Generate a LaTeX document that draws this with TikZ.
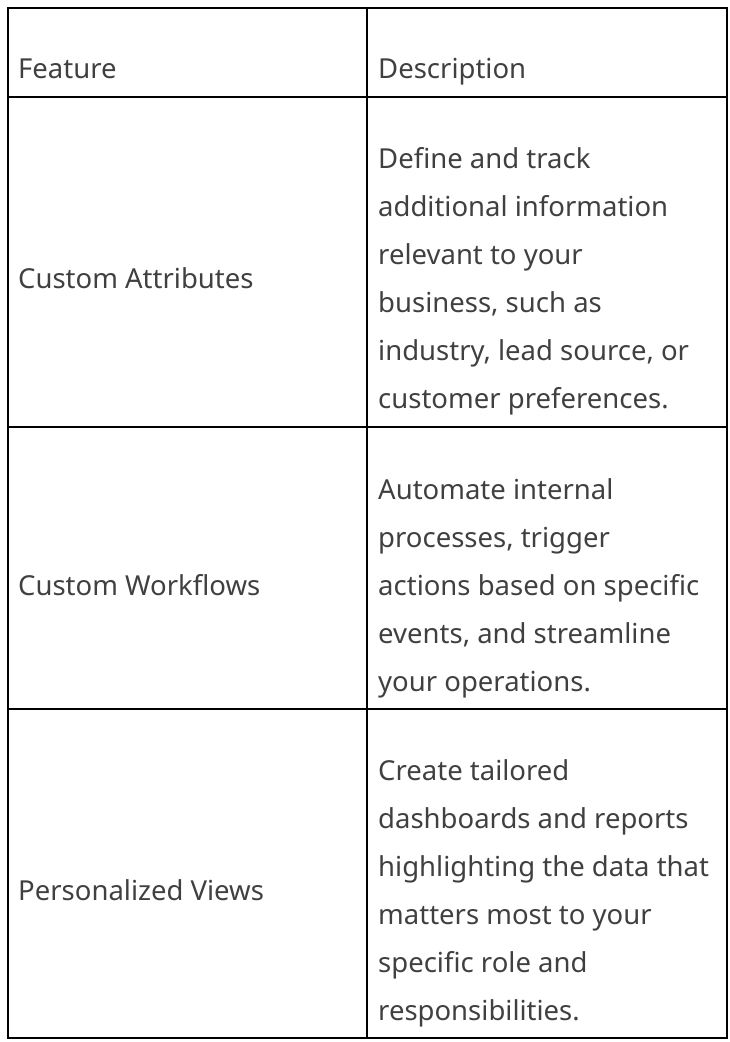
\documentclass[tikz,border=0pt]{standalone}
\usepackage{fontspec}
\setmainfont{Noto Sans}
\definecolor{txt}{HTML}{404040}
\begin{document}
\begin{tikzpicture}[x=1pt,y=-1pt,
  cell/.style={anchor=base west,inner sep=0pt,text=txt,font=\fontsize{27.5}{48}\selectfont},
  grid/.style={line width=1.4pt,black}]
\useasboundingbox (0,0) rectangle (730,1042);
\draw[grid] (8,8) rectangle (727,1038);
\draw[grid] (367,8) -- (367,1038);
\draw[grid] (8,97) -- (727,97);
\draw[grid] (8,427) -- (727,427);
\draw[grid] (8,709) -- (727,709);
\node[cell] (h1) at (18,78) {Feature};
\node[cell] (h2) at (378,78) {Description};
\node[cell] (a1) at (18,288) {Custom Attributes};
\foreach \t [count=\i from 0] in {Define and track,additional information,relevant to your,{business, such as},{industry, lead source, or},customer preferences.}
  \node[cell] (a2-\i) at (378,168+48*\i) {\t};
\node[cell] (b1) at (18,595) {Custom Workflows};
\foreach \t [count=\i from 0] in {Automate internal,{processes, trigger},actions based on specific,{events, and streamline},your operations.}
  \node[cell] (b2-\i) at (378,499+48*\i) {\t};
\node[cell] (c1) at (18,900) {Personalized Views};
\foreach \t [count=\i from 0] in {Create tailored,dashboards and reports,highlighting the data that,matters most to your,specific role and,responsibilities.}
  \node[cell] (c2-\i) at (378,780+48*\i) {\t};
\end{tikzpicture}
\end{document}
